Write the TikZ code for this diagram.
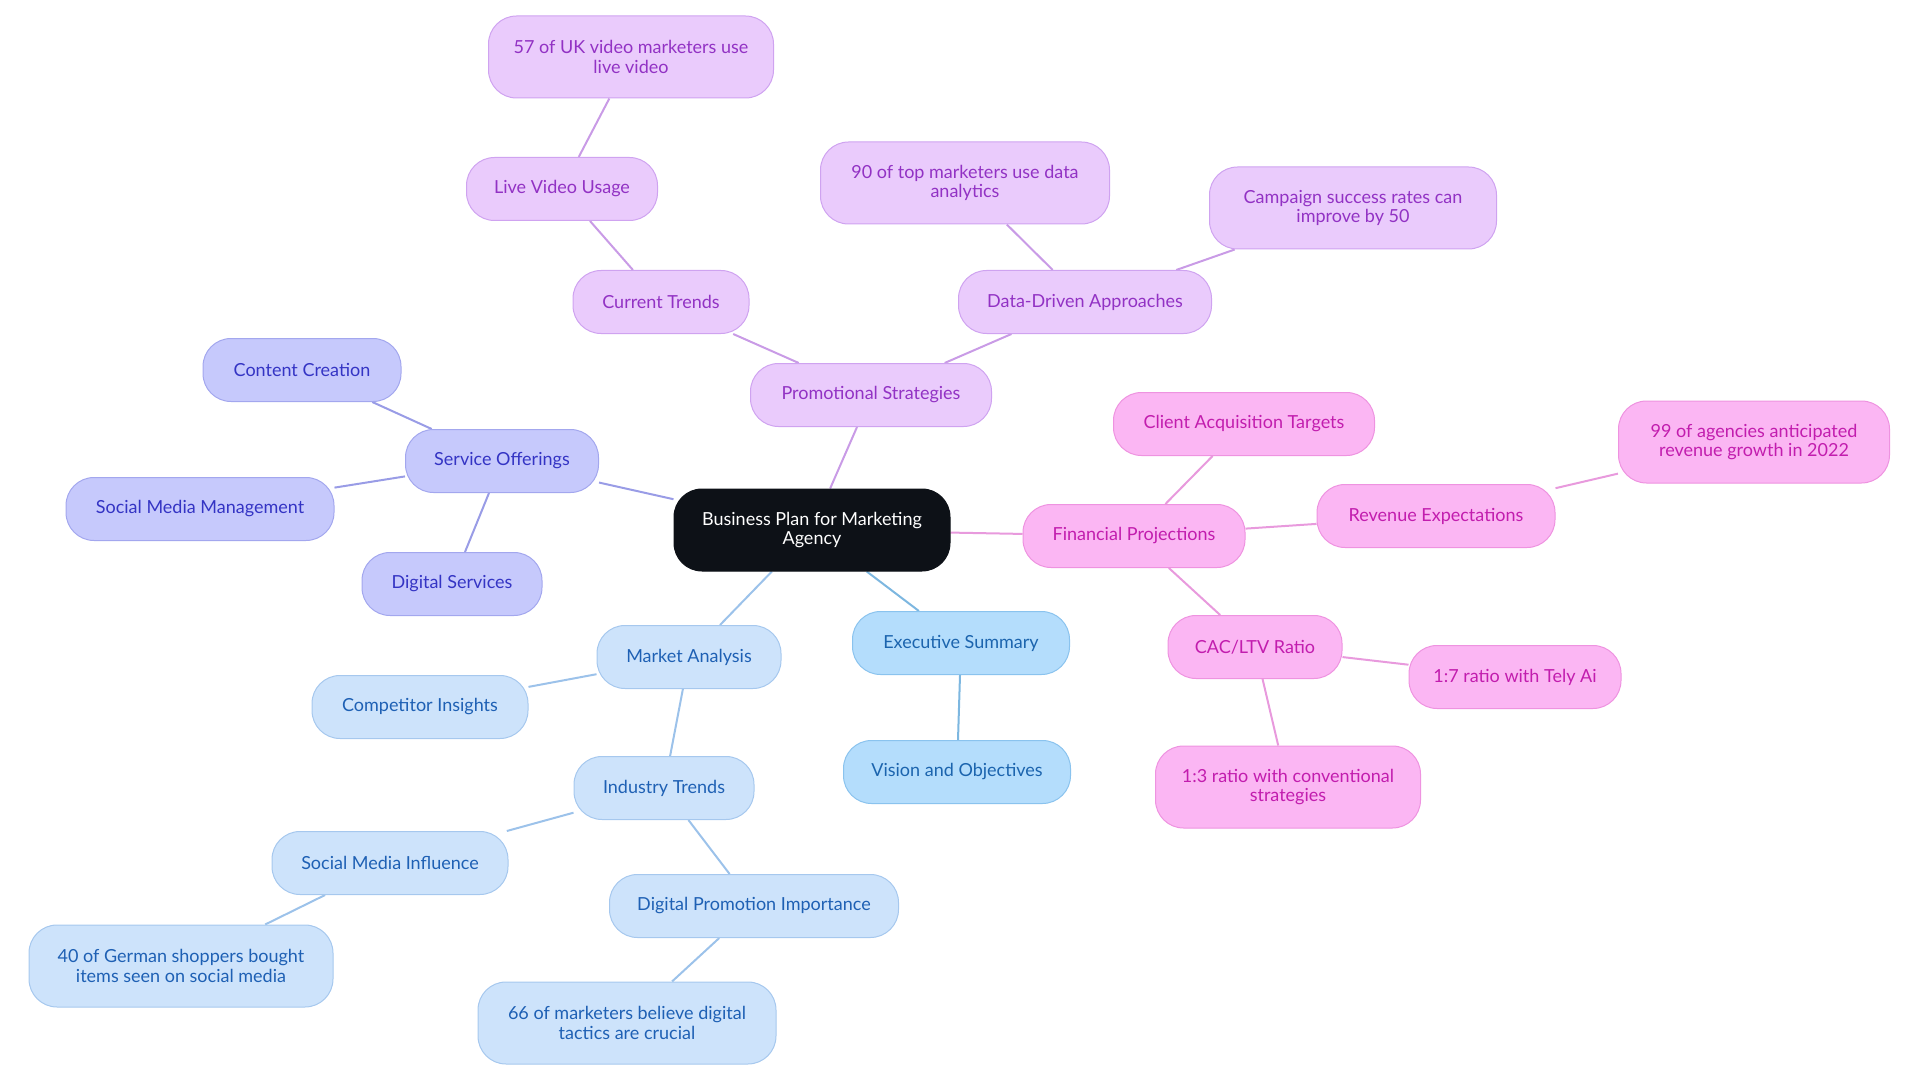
\documentclass[tikz,border=0pt]{standalone}
\usepackage{fontspec}
\setmainfont{Lato}
\usetikzlibrary{backgrounds}
\definecolor{rootfill}{HTML}{0D1117}
\definecolor{promfill}{HTML}{EACBFC}\definecolor{promdraw}{HTML}{CFA3F0}\definecolor{promtext}{HTML}{9232C4}\definecolor{promedge}{HTML}{C99BE6}
\definecolor{servfill}{HTML}{C6C9FC}\definecolor{servdraw}{HTML}{A3A7EE}\definecolor{servtext}{HTML}{3434C4}\definecolor{servedge}{HTML}{999CE6}
\definecolor{finfill}{HTML}{FBB6F3}\definecolor{findraw}{HTML}{EE93E0}\definecolor{fintext}{HTML}{C21DAE}\definecolor{finedge}{HTML}{E89ADD}
\definecolor{mktfill}{HTML}{CDE3FB}\definecolor{mktdraw}{HTML}{A6C8EE}\definecolor{mkttext}{HTML}{1E60B4}\definecolor{mktedge}{HTML}{9CC2EA}
\definecolor{exefill}{HTML}{B4DDFC}\definecolor{exedraw}{HTML}{8AC3EE}\definecolor{exetext}{HTML}{1B64AE}\definecolor{exeedge}{HTML}{7DB7E0}
\begin{document}
\begin{tikzpicture}[x=1pt, y=-1pt, font=\fontsize{18}{19.5}\selectfont, line cap=round, line join=round,
  box/.style={rounded corners=28pt, draw, line width=1pt, align=center, minimum height=63pt, inner xsep=12pt},
  tall/.style={minimum height=82pt},
  prom/.style={box, fill=promfill, draw=promdraw, text=promtext},
  serv/.style={box, fill=servfill, draw=servdraw, text=servtext},
  fin/.style={box, fill=finfill, draw=findraw, text=fintext},
  mkt/.style={box, fill=mktfill, draw=mktdraw, text=mkttext},
  exe/.style={box, fill=exefill, draw=exedraw, text=exetext},
  link/.style={line width=2pt}]
\useasboundingbox (0,-2) rectangle (1920,1081);
% centre
\node[box, fill=rootfill, draw=rootfill, text=white, minimum width=276pt, minimum height=82pt] (root) at (812,528) {Business Plan for Marketing\\Agency};
% promotional strategies
\node[prom, minimum width=241pt] (prom) at (871,393) {Promotional Strategies};
\node[prom, minimum width=176pt] (trends) at (661,300) {Current Trends};
\node[prom, minimum width=191pt] (live) at (562,187) {Live Video Usage};
\node[prom, tall, minimum width=285pt] (uk) at (631,55) {57 of UK video marketers use\\live video};
\node[prom, minimum width=253pt] (data) at (1085,300) {Data-Driven Approaches};
\node[prom, tall, minimum width=289pt] (top) at (965,181) {90 of top marketers use data\\analytics};
\node[prom, tall, minimum width=287pt] (camp) at (1353,206) {Campaign success rates can\\improve by 50};
% service offerings
\node[serv, minimum width=193pt] (serv) at (502,459) {Service Offerings};
\node[serv, minimum width=198pt] (content) at (302,368) {Content Creation};
\node[serv, minimum width=268pt] (smm) at (200,507) {Social Media Management};
\node[serv, minimum width=180pt] (digital) at (452,582) {Digital Services};
% financial projections
\node[fin, minimum width=222pt] (fin) at (1134,534) {Financial Projections};
\node[fin, minimum width=261pt] (client) at (1244,422) {Client Acquisition Targets};
\node[fin, minimum width=238pt] (rev) at (1436,514) {Revenue Expectations};
\node[fin, tall, minimum width=271pt] (agency) at (1754,440) {99 of agencies anticipated\\revenue growth in 2022};
\node[fin, minimum width=174pt] (cac) at (1255,645) {CAC/LTV Ratio};
\node[fin, minimum width=212pt] (tely) at (1515,675) {1:7 ratio with Tely Ai};
\node[fin, tall, minimum width=265pt] (conv) at (1288,785) {1:3 ratio with conventional\\strategies};
% executive summary
\node[exe, minimum width=217pt] (exe) at (961,641) {Executive Summary};
\node[exe, minimum width=227pt] (vision) at (957,770) {Vision and Objectives};
% market analysis
\node[mkt, minimum width=184pt] (mkt) at (689,655) {Market Analysis};
\node[mkt, minimum width=216pt] (comp) at (420,705) {Competitor Insights};
\node[mkt, minimum width=180pt] (ind) at (664,786) {Industry Trends};
\node[mkt, minimum width=236pt] (smi) at (390,861) {Social Media Influence};
\node[mkt, tall, minimum width=304pt] (german) at (181,964) {40 of German shoppers bought\\items seen on social media};
\node[mkt, minimum width=289pt] (dpi) at (754,904) {Digital Promotion Importance};
\node[mkt, tall, minimum width=298pt] (crucial) at (627,1021) {66 of marketers believe digital\\tactics are crucial};
\begin{scope}[on background layer]
\draw[link, promedge] (root)--(prom) (prom)--(trends)--(live)--(uk) (prom)--(data)--(top) (data)--(camp);
\draw[link, servedge] (root)--(serv) (serv)--(content) (serv)--(smm) (serv)--(digital);
\draw[link, finedge] (root)--(fin) (fin)--(client) (fin)--(rev)--(agency) (fin)--(cac)--(tely) (cac)--(conv);
\draw[link, exeedge] (root)--(exe)--(vision);
\draw[link, mktedge] (root)--(mkt)--(comp) (mkt)--(ind)--(smi)--(german) (ind)--(dpi)--(crucial);
\end{scope}
\end{tikzpicture}
\end{document}
